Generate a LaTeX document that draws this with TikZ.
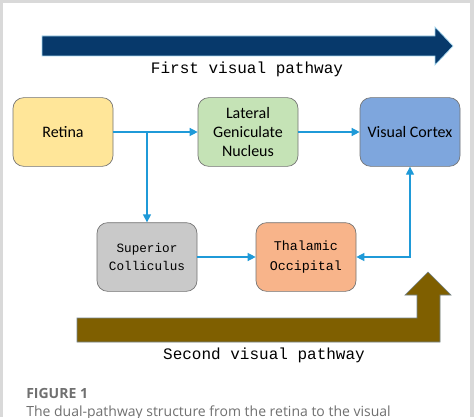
\documentclass[tikz,border=0pt]{standalone}
\usepackage{fontspec}
\setmainfont{Carlito}
\newfontfamily\monofont{Liberation Mono}
\newfontfamily\capfont{Open Sans}
\usetikzlibrary{arrows.meta}
\definecolor{frame}{HTML}{D9D9D9}
\definecolor{navy}{HTML}{07396B}
\definecolor{brownish}{HTML}{7F5F00}
\definecolor{link}{HTML}{1F9AD8}
\definecolor{retinafill}{HTML}{FFE699}
\definecolor{lgnfill}{HTML}{C5E3B6}
\definecolor{cortexfill}{HTML}{7EA6DD}
\definecolor{scfill}{HTML}{C9C9C9}
\definecolor{tofill}{HTML}{F8B48A}
\definecolor{captext}{HTML}{707070}
\begin{document}
\begin{tikzpicture}[x=0.75pt,y=0.75pt,yscale=-1,xscale=1,
  box/.style={draw=black!55,line width=0.5pt,rounded corners=8pt,
    minimum width=75pt,minimum height=51.5pt,align=center,inner sep=1pt},
  link/.style={draw=link,line width=1pt,-{Triangle[length=6pt,width=6pt]}},
  pathway/.style={font=\monofont\fontsize{12}{14}\selectfont}]
\useasboundingbox (0,0) rectangle (474,417);
\clip (0,0) rectangle (474,417);
% panel
\fill[frame] (0,0) rectangle (474,417);
\fill[white] (3,3) rectangle (470,420);
% first pathway arrow
\draw[fill=navy,draw=link!40,line width=0.5pt] (42,36) -- (435,36) -- (435,27) -- (453,46) -- (435,65) -- (435,56) -- (42,56) -- cycle;
\node[pathway] (first) at (247,69) {First visual pathway};
% second pathway arrow
\draw[fill=brownish,draw=black!50!cyan!40!gray,line width=0.5pt] (77,318) -- (417,318) -- (417,295) -- (405,295) -- (428,272) -- (451,295) -- (440,295) -- (440,342) -- (77,342) -- cycle;
\node[pathway] (second) at (264,355) {Second visual pathway};
% boxes
\node[box,fill=retinafill,font=\fontsize{12}{14.5}\selectfont] (retina) at (63,132) {Retina};
\node[box,fill=lgnfill,font=\fontsize{12}{14.5}\selectfont] (lgn) at (248,132) {Lateral\\Geniculate\\Nucleus};
\node[box,fill=cortexfill,font=\fontsize{12}{14.5}\selectfont] (cortex) at (410,132) {Visual Cortex};
\node[box,fill=scfill,font=\monofont\fontsize{9.5}{14}\selectfont] (sc) at (147,257) {Superior\\Colliculus};
\node[box,fill=tofill,font=\monofont\fontsize{10}{14.5}\selectfont] (to) at (306,257) {Thalamic\\Occipital};
% connectors
\coordinate (split) at (sc.north |- retina.east);
\coordinate (corner) at (cortex.south |- to.east);
\draw[link] (retina) -- (lgn);
\draw[link] (split) -- (sc);
\draw[link] (lgn) -- (cortex);
\draw[link] (sc) -- (to);
\draw[link,{Triangle[length=6pt,width=6pt]}-{Triangle[length=6pt,width=6pt]}] (to) -- (corner) -- (cortex);
% caption
\node[anchor=west,font=\capfont\bfseries\fontsize{10.5}{12}\selectfont,text=captext,inner sep=0pt] (figlabel) at (26,393) {FIGURE 1};
\node[anchor=west,font=\capfont\fontsize{10.5}{12}\selectfont,text=captext,inner sep=0pt] (figtext) at (26,413) {The dual-pathway structure from the retina to the visual};
\end{tikzpicture}
\end{document}
